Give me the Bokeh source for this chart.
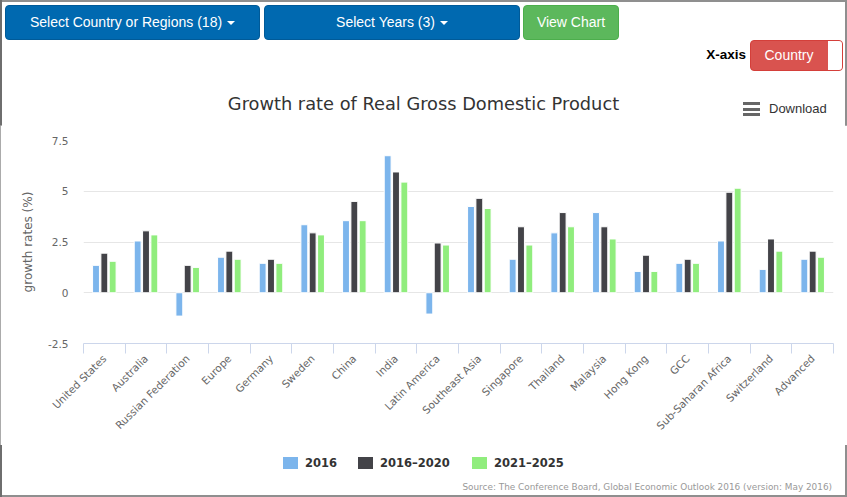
import math
import numpy as np
from bokeh.plotting import figure
from bokeh.models import Range1d, FixedTicker, Div
from bokeh.layouts import column
from bokeh.embed import file_html
from bokeh.resources import INLINE

countries = ["United States", "Australia", "Russian Federation", "Europe", "Germany",
             "Sweden", "China", "India", "Latin America", "Southeast Asia", "Singapore",
             "Thailand", "Malaysia", "Hong Kong", "GCC", "Sub-Saharan Africa",
             "Switzerland", "Advanced"]
g2016 = [1.35, 2.55, -1.15, 1.75, 1.45, 3.35, 3.55, 6.75, -1.05, 4.25, 1.65, 2.95,
         3.95, 1.05, 1.45, 2.55, 1.15, 1.65]
g2016_2020 = [1.95, 3.05, 1.35, 2.05, 1.65, 2.95, 4.5, 5.95, 2.45, 4.65, 3.25, 3.95,
              3.25, 1.85, 1.65, 4.95, 2.65, 2.05]
g2021_2025 = [1.55, 2.85, 1.25, 1.65, 1.45, 2.85, 3.55, 5.45, 2.35, 4.15, 2.35, 3.25,
              2.65, 1.05, 1.45, 5.15, 2.05, 1.75]
series_names = ["2016", "2016\u20132020", "2021\u20132025"]
series_colors = ["#7cb5ec", "#434348", "#90ed7d"]
y_ticks = [-2.5, 0, 2.5, 5, 7.5]
y_tick_labels = ["-2.5", "0", "2.5", "5", "7.5"]
title_text = "Growth rate of Real Gross Domestic Product"
source_text = "Source: The Conference Board, Global Economic Outlook 2016 (version: May 2016)"

W, H = 847, 497
HEAD = 125
FOOT = 52
FL, FR, FT, FB = 83, 833, 140, 343
N = len(countries)

# ---------------- header (HTML) ----------------
caret = ('<span style="display:inline-block;width:0;height:0;margin-left:5px;'
         'vertical-align:middle;border-top:4px solid #fff;border-left:4px solid transparent;'
         'border-right:4px solid transparent;"></span>')


def btn(left, width, bg, bd, text):
    return (f'<div style="position:absolute;left:{left}px;top:5px;width:{width}px;height:35px;'
            f'box-sizing:border-box;background:{bg};border:1px solid {bd};border-radius:4px;'
            f'color:#fff;font-size:14px;line-height:33px;text-align:center;">{text}</div>')


html = ('<div style="position:relative;width:847px;height:125px;overflow:hidden;'
        'font-family:\'Liberation Sans\',Arial,sans-serif;">'
        + '<div style="position:absolute;left:0;top:0;width:2px;height:125px;background:#6e6e6e;"></div>'
        + btn(5, 255, "#0069b0", "#005a98", "Select Country or Regions (18)" + caret)
        + btn(264, 256, "#0069b0", "#005a98", "Select Years (3)" + caret)
        + btn(523, 96, "#5cb85c", "#4cae4c", "View Chart")
        + '<div style="position:absolute;right:101px;top:46px;line-height:17px;font-size:13.5px;'
          'font-weight:bold;color:#000;">X-axis</div>'
        + '<div style="position:absolute;left:750px;top:40px;width:93px;height:31px;box-sizing:border-box;'
          'background:#d9534f;border:1px solid #d43f3a;border-radius:4px;"></div>'
        + '<div style="position:absolute;left:828px;top:41px;width:14px;height:29px;background:#fff;'
          'border-radius:0 3px 3px 0;"></div>'
        + '<div style="position:absolute;left:750px;top:40px;width:78px;line-height:31px;font-size:14px;'
          'color:#fff;text-align:center;">Country</div>'
        + f'<div style="position:absolute;left:0;top:93px;width:847px;line-height:22px;text-align:center;'
          f'font-family:\'DejaVu Sans\';font-size:17.8px;color:#333;">{title_text}</div>'
        + '<div style="position:absolute;left:743px;top:102px;width:17px;height:3px;background:#666;"></div>'
        + '<div style="position:absolute;left:743px;top:107.5px;width:17px;height:3px;background:#666;"></div>'
        + '<div style="position:absolute;left:743px;top:113px;width:17px;height:3px;background:#666;"></div>'
        + '<div style="position:absolute;left:769px;top:101px;line-height:16px;font-size:13px;'
          'color:#333;">Download</div>'
        + '</div>')
header = Div(text=html, width=W, height=HEAD, styles={"margin": "0", "padding": "0"})

# ---------------- footer: legend + source (HTML) ----------------
leg_x = [283, 358, 472]
items = ""
for name, col, lx in zip(series_names, series_colors, leg_x):
    items += (f'<div style="position:absolute;left:{lx}px;top:12px;width:15px;height:12px;'
              f'background:{col};"></div>'
              f'<div style="position:absolute;left:{lx + 22}px;top:10px;line-height:16px;'
              f'font-family:\'DejaVu Sans\';font-weight:bold;font-size:11.5px;color:#333;'
              f'white-space:nowrap;">{name}</div>')
footer_html = ('<div style="position:relative;width:847px;height:52px;overflow:hidden;">'
               + '<div style="position:absolute;left:0;top:0;width:2px;height:52px;background:#6e6e6e;"></div>'
               + items
               + '<div style="position:absolute;right:15px;top:35px;line-height:14px;font-size:8.9px;'
               f'font-family:\'DejaVu Sans\';color:#999;white-space:nowrap;">{source_text}</div></div>')
footer = Div(text=footer_html, width=W, height=FOOT, styles={"margin": "0", "padding": "0"})

# ---------------- chart ----------------
PH = H - HEAD - FOOT
p = figure(width=W, height=PH, output_backend="svg", toolbar_location=None, tools="",
           x_range=Range1d(0, N), y_range=Range1d(-2.5, 7.5),
           min_border_left=FL, min_border_right=W - FR, min_border_top=FT - HEAD,
           min_border_bottom=PH - (FB - HEAD))
p.outline_line_color = None
p.background_fill_color = "white"
p.border_fill_color = "white"

centers = np.arange(N) + 0.5
offsets = [-0.2, 0.0, 0.2]
for vals, off, col, name in zip([g2016, g2016_2020, g2021_2025], offsets, series_colors, series_names):
    p.vbar(x=centers + off, top=vals, bottom=0, width=0.165,
           fill_color=col, line_color="white", line_width=1, name=name)

xa = p.xaxis[0]
xa.ticker = FixedTicker(ticks=list(centers), minor_ticks=list(range(N + 1)))
xa.major_label_overrides = {float(c): n for c, n in zip(centers, countries)}
xa.major_label_orientation = math.pi / 4
xa.major_tick_line_color = None
xa.major_tick_out = 0
xa.major_tick_in = 0
xa.minor_tick_out = 10
xa.minor_tick_in = 0
xa.minor_tick_line_color = "#ccd6eb"
xa.axis_line_color = "#ccd6eb"
xa.major_label_standoff = 3
xa.major_label_text_font = "DejaVu Sans"
xa.major_label_text_font_size = "10.5px"
xa.major_label_text_color = "#666666"

ya = p.yaxis[0]
ya.ticker = FixedTicker(ticks=y_ticks)
ya.major_label_overrides = {float(t): s for t, s in zip(y_ticks, y_tick_labels)}
ya.axis_line_color = None
ya.major_tick_line_color = None
ya.minor_tick_line_color = None
ya.major_tick_out = 0
ya.major_label_standoff = 15
ya.major_label_text_font = "DejaVu Sans"
ya.major_label_text_font_size = "10.5px"
ya.major_label_text_color = "#666666"
ya.axis_label = "growth rates (%)"
ya.axis_label_text_font = "DejaVu Sans"
ya.axis_label_text_font_style = "normal"
ya.axis_label_text_font_size = "12px"
ya.axis_label_text_color = "#666666"
ya.axis_label_standoff = 10

p.xgrid.visible = False
p.ygrid.grid_line_color = "#e6e6e6"
p.ygrid.ticker = FixedTicker(ticks=y_ticks)

layout = column(header, p, footer, spacing=0,
                styles={"outline": "2px solid #8f8f8f", "outline-offset": "-2px"})

open("out.html", "w").write(file_html(layout, INLINE))
